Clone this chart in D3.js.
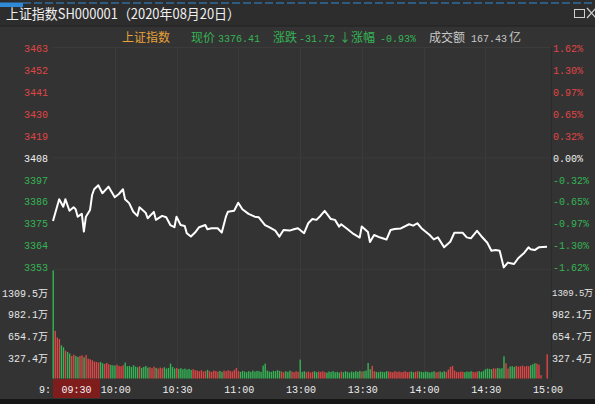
<!DOCTYPE html>
<html lang="zh-CN">
<head>
<meta charset="UTF-8">
<title>上证指数分时</title>
<script src="https://d3js.org/d3.v7.min.js"></script>
<style>
  body { margin: 0; background: #333; overflow: hidden; }
  svg { display: block; }
</style>
</head>
<body>
<div id="chart"></div>
<script>
// 分时数据 (从截图读取)
const prevClose = 3408.13;
const priceTicks = [3463, 3452, 3441, 3430, 3419, 3408, 3397, 3386, 3375, 3364, 3353];
const pctTicks = ["1.62%", "1.30%", "0.97%", "0.65%", "0.32%", "0.00%", "-0.32%", "-0.65%", "-0.97%", "-1.30%", "-1.62%"];
const volTicks = [327.4, 654.7, 982.1, 1309.5];
const volLabels = ["327.4万", "654.7万", "982.1万", "1309.5万"];
const timeMinutes = [30, 60, 90, 120, 150, 180, 210, 240];
const timeLabels = ["10:00", "10:30", "11:00", "13:00", "13:30", "14:00", "14:30", "15:00"];

const priceMinutes = [0, 3, 5, 6, 8, 10, 11, 12, 14, 15, 16, 18, 19, 20, 22, 24, 27, 30, 32, 34,
  35, 37, 39, 41, 42, 45, 46, 49, 50, 53, 55, 57, 59, 60, 62, 64, 65, 67, 69, 71,
  74, 75, 77, 80, 82, 84, 85, 88, 90, 92, 95, 98, 100, 103, 105, 108, 110, 112, 115, 117,
  119, 122, 124, 126, 128, 130, 132, 135, 137, 139, 140, 143, 146, 149, 150, 153, 154, 156, 159, 162,
  164, 166, 169, 173, 175, 177, 179, 183, 185, 187, 190, 193, 195, 199, 201, 203, 206, 208, 211, 213,
  215, 217, 219, 221, 224, 226, 229, 231, 232, 234, 236, 240];
const prices = [3376.4, 3387.4, 3383.6, 3387.4, 3381.6, 3383.3, 3382.3, 3378.6, 3380.0, 3371.1, 3378.6, 3382.0, 3389.5, 3392.4, 3394.4, 3390.4, 3393.7, 3388.4, 3390.0, 3392.4,
  3387.4, 3385.4, 3381.1, 3379.0, 3383.3, 3380.6, 3377.8, 3381.0, 3377.0, 3379.0, 3378.3, 3374.4, 3373.3, 3378.6, 3374.4, 3373.9, 3370.3, 3368.6, 3370.6, 3373.3,
  3374.4, 3372.3, 3372.8, 3372.8, 3370.6, 3378.6, 3381.1, 3381.6, 3385.6, 3382.3, 3380.0, 3378.6, 3378.3, 3374.4, 3373.3, 3371.6, 3368.6, 3371.9, 3371.6, 3372.3,
  3372.8, 3370.3, 3375.3, 3377.4, 3377.0, 3379.1, 3381.5, 3377.4, 3377.0, 3373.6, 3374.8, 3372.4, 3369.9, 3368.1, 3373.7, 3370.9, 3365.9, 3369.4, 3368.1, 3367.1,
  3371.9, 3372.4, 3372.7, 3374.8, 3374.1, 3375.3, 3372.8, 3369.4, 3367.2, 3368.2, 3363.2, 3366.0, 3370.5, 3370.5, 3368.2, 3367.7, 3371.5, 3368.9, 3365.5, 3361.5,
  3361.8, 3361.5, 3353.1, 3355.5, 3354.8, 3357.7, 3360.5, 3363.2, 3362.2, 3361.8, 3363.2, 3363.5];

// 每分钟成交量 (万), 09:30 - 15:00
const volumes = [1630,
  720, 620, 595, 500, 470, 420, 400, 375, 340, 360, 340, 325, 340, 350, 320, 355, 300, 290, 275,
  255, 250, 240, 250, 230, 220, 235, 215, 205, 200,
  195, 210, 190, 185, 200, 240, 185, 190, 175, 200,
  180, 170, 185, 160, 175, 190, 165, 170, 155, 180,
  160, 150, 165, 155, 170, 150, 160, 225, 175, 150,
  160, 145, 155, 140, 150, 135, 145, 130, 140, 125,
  120, 110, 125, 105, 115, 130, 110, 100, 120, 110,
  105, 115, 100, 120, 110, 125, 115, 105, 130, 160,
  110, 100, 115, 105, 95, 110, 100, 120, 105, 115,
  110, 100, 195, 225, 120, 105, 100, 115, 110, 125,
  115, 105, 95, 110, 100, 120, 105, 95, 110, 100,
  285, 100, 110, 95, 105, 90, 100, 110, 95, 105,
  100, 110, 95, 90, 105, 100, 110, 95, 100, 90,
  105, 95, 110, 100, 90, 105, 95, 110, 100, 115,
  105, 110, 120, 235, 140, 190, 110, 100, 95, 105,
  100, 95, 110, 105, 100, 95, 110, 100, 105, 95,
  100, 110, 95, 100, 105, 95, 100, 110, 105, 100,
  95, 105, 100, 90, 100, 110, 95, 100, 105, 95,
  110, 100, 135, 175, 190, 120, 100, 95, 105, 100,
  95, 105, 100, 110, 100, 95, 105, 110, 100, 115,
  140, 150, 145, 140, 155, 150, 160, 150, 155, 335,
  230, 150, 180, 185, 175, 190, 180, 185, 195, 180,
  190, 185, 200, 215, 230, 225, 210, 50, 0, 0,
  365];

const W = 595, H = 404;
const left = 53, right = 551, priceTop = 48, priceBottom = 268, volTop = 270, volBottom = 378.5;
const red = "#e04545", green = "#35b455";

const svg = d3.select("#chart").append("svg")
  .attr("width", W).attr("height", H)
  .style("font-family", "'Liberation Mono', monospace");

// 背景
svg.append("rect").attr("width", W).attr("height", H).attr("fill", "#333333");
svg.append("rect").attr("width", W).attr("height", 26).attr("fill", "#2d2d2d");
svg.append("line").attr("x1", 0).attr("x2", W).attr("y1", 26).attr("y2", 26).attr("stroke", "#232323");
svg.append("rect").attr("x", 0).attr("y", 399).attr("width", W).attr("height", 5).attr("fill", "#161616");

// 顶部蓝色虚线
svg.append("rect").attr("x", 0).attr("y", 2.5).attr("width", 23).attr("height", 4.5).attr("fill", "#2f8ad8");
svg.append("line").attr("x1", 23).attr("x2", W).attr("y1", 3).attr("y2", 3)
  .attr("stroke", "#2f8ad8").attr("stroke-width", 1).attr("stroke-dasharray", "8,3");

// 标题
svg.append("text").attr("x", 6).attr("y", 19)
  .attr("fill", "#f0f0f0").attr("font-size", 14)
  .attr("font-family", "'Noto Sans CJK SC', sans-serif")
  .attr("textLength", 234).attr("lengthAdjust", "spacingAndGlyphs")
  .text("上证指数SH000001（2020年08月20日）");

// 窗口按钮
svg.append("rect").attr("x", 574.5).attr("y", 9.5).attr("width", 10).attr("height", 8)
  .attr("fill", "none").attr("stroke", "#cfcfcf");
svg.append("path").attr("d", "M587,8 L596,18 M596,8 L587,18")
  .attr("stroke", "#cfcfcf").attr("stroke-width", 1.2);

// 信息栏
const info = [
  {x: 122, t: "上证指数", c: "#e8a23a", cjk: true},
  {x: 191, t: "现价", c: green, cjk: true},
  {x: 218, t: "3376.41", c: green},
  {x: 273, t: "涨跌", c: green, cjk: true},
  {x: 299, t: "-31.72", c: green},
  {x: 339, t: "↓", c: green, cjk: true},
  {x: 351, t: "涨幅", c: green, cjk: true},
  {x: 380, t: "-0.93%", c: green},
  {x: 429, t: "成交额", c: "#c8c8c8", cjk: true},
  {x: 471, t: "167.43", c: "#c8c8c8"},
  {x: 509, t: "亿", c: "#c8c8c8", cjk: true}
];
svg.selectAll(".info").data(info).enter().append("text")
  .attr("x", d => d.x).attr("y", 42)
  .attr("fill", d => d.c)
  .attr("font-size", d => d.cjk ? 12 : 10)
  .attr("font-family", d => d.cjk ? "'Noto Sans CJK SC', sans-serif" : "'Liberation Mono', monospace")
  .text(d => d.t);

// 比例尺
const x = d3.scaleLinear().domain([0, 240]).range([left, 547]);
const y = d3.scaleLinear().domain([3352.8, 3463.4]).range([priceBottom, priceTop]);
const yv = d3.scaleLinear().domain([0, 1636.9]).range([volBottom, volTop]);

// 网格
const grid = "#3b3b3b";
svg.append("line").attr("x1", left).attr("x2", right).attr("y1", 47.5).attr("y2", 47.5).attr("stroke", grid);
svg.append("line").attr("x1", left).attr("x2", right).attr("y1", y(prevClose)).attr("y2", y(prevClose)).attr("stroke", grid);
svg.append("line").attr("x1", left).attr("x2", right).attr("y1", 269.5).attr("y2", 269.5).attr("stroke", "#393939");
svg.selectAll(".vgrid").data(timeMinutes.slice(0, -1)).enter().append("line")
  .attr("x1", d => Math.round(x(d)) + 0.5).attr("x2", d => Math.round(x(d)) + 0.5)
  .attr("y1", 47).attr("y2", volBottom).attr("stroke", grid);
svg.append("line").attr("x1", right + 0.5).attr("x2", right + 0.5).attr("y1", 47).attr("y2", volBottom).attr("stroke", "#2b2b2b");

// 价格坐标
const tickColor = v => v > 3408 ? red : (v < 3408 ? green : "#f2f2f2");
svg.selectAll(".pl").data(priceTicks).enter().append("text")
  .attr("x", 48).attr("y", d => y(d)).attr("dy", "0.35em")
  .attr("text-anchor", "end").attr("font-size", 10)
  .attr("fill", tickColor).text(d => d);
svg.selectAll(".pr").data(pctTicks).enter().append("text")
  .attr("x", 553).attr("y", (d, i) => y(priceTicks[i])).attr("dy", "0.35em")
  .attr("font-size", 10)
  .attr("fill", (d, i) => tickColor(priceTicks[i])).text(d => d);

// 成交量坐标
svg.selectAll(".vl").data(volTicks).enter().append("text")
  .attr("x", 48).attr("y", d => yv(d) + 1.5).attr("dy", "0.35em")
  .attr("text-anchor", "end").attr("font-size", 10).attr("fill", "#e6e6e6")
  .text((d, i) => volLabels[i]);
svg.selectAll(".vr").data(volTicks).enter().append("text")
  .attr("x", 552).attr("y", d => yv(d) + 1.5).attr("dy", "0.35em")
  .attr("font-size", (d, i) => volLabels[i].length > 6 ? 9 : 10).attr("fill", "#e6e6e6")
  .text((d, i) => volLabels[i]);

// 成交量柱 (颜色按该分钟价格涨跌)
function barColor(m) {
  if (m === 0) return prices[0] >= prevClose ? red : green;
  let i = priceMinutes.findIndex(t => t >= m);
  if (i <= 0) i = 1;
  return prices[i] >= prices[i - 1] ? red : green;
}
svg.selectAll(".vol").data(volumes).enter().append("rect")
  .attr("x", (d, i) => x(i) - 0.5)
  .attr("width", 1.4)
  .attr("y", d => yv(d))
  .attr("height", d => volBottom - yv(d))
  .attr("fill", (d, i) => barColor(i));

// 价格线
const pts = priceMinutes.map((m, i) => [m, prices[i]]);
svg.append("path").datum(pts)
  .attr("fill", "none").attr("stroke", "#ffffff").attr("stroke-width", 2)
  .attr("stroke-linejoin", "round")
  .attr("d", d3.line().x(d => x(d[0])).y(d => y(d[1])));

// 时间坐标
svg.selectAll(".tl").data(timeMinutes).enter().append("text")
  .attr("x", d => x(d) + 1).attr("y", 389).attr("dy", "0.35em")
  .attr("text-anchor", "middle").attr("font-size", 10).attr("fill", "#eeeeee")
  .text((d, i) => timeLabels[i]);
svg.append("text").attr("x", 51).attr("y", 389).attr("dy", "0.35em")
  .attr("text-anchor", "end").attr("font-size", 10).attr("fill", "#eeeeee").text("9:");
svg.append("rect").attr("x", left).attr("y", 379).attr("width", 47).attr("height", 19).attr("fill", "#7f1c1c");
svg.append("text").attr("x", 76.5).attr("y", 389).attr("dy", "0.35em")
  .attr("text-anchor", "middle").attr("font-size", 10).attr("fill", "#f2f2f2").text("09:30");
</script>
</body>
</html>
